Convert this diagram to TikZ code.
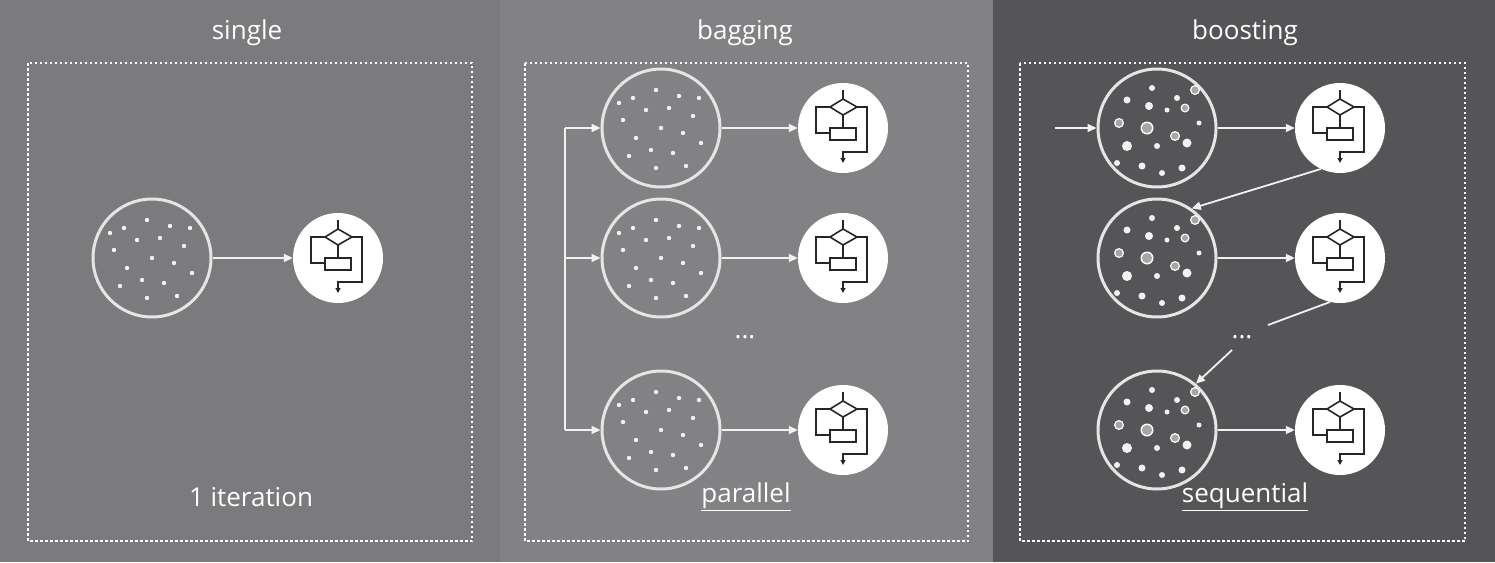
\documentclass[tikz,border=0pt]{standalone}
\usepackage{fontspec}
\setmainfont{Open Sans}
\usetikzlibrary{arrows.meta,calc}
\begin{document}
\begin{tikzpicture}[x=1pt,y=-1pt,
  frame/.style={draw=white,line width=2.5pt,dash pattern=on 2.5pt off 2.5pt},
  data/.style={circle,draw=white!80!gray,line width=3pt,minimum size=118pt,inner sep=0pt},
  model/.style={circle,fill=white,minimum size=90pt,inner sep=0pt},
  arr/.style={draw=white!90!gray,line width=1.8pt,-{Triangle[length=9pt,width=8pt]}},
  ttl/.style={text=white,font=\fontsize{26}{28}\selectfont},
  dot/.style={fill=white!90!gray}]
\fill[fill={rgb,255:red,123;green,123;blue,125}] (0,0) rectangle (993,562);
\fill[fill={rgb,255:red,130;green,130;blue,132}] (500,0) rectangle (993,562);
\fill[fill={rgb,255:red,85;green,85;blue,87}] (993,0) rectangle (1495,562);
\useasboundingbox (0,0) rectangle (1495,562);
\draw[frame] (28,63) rectangle (472,541);
\draw[frame] (525,63) rectangle (968,541);
\draw[frame] (1020,63) rectangle (1465,541);
\node[ttl] (t1) at (247,33) {single};
\node[ttl] (t2) at (745,33) {bagging};
\node[ttl] (t3) at (1245,33) {boosting};
\node[ttl] (b1) at (251,497) {1 iteration};
\node[ttl] (b2) at (746,497) {\underline{parallel}};
\node[ttl] (b3) at (1245,497) {\underline{sequential}};
\def\sdots#1{\foreach \dx/\dy in {-28/-30,-5/-38,18/-32,-38/-8,-15/-18,8/-20,32/-12,-25/10,0/0,22/5,40/15,-10/22,12/25,-32/28,-5/40,25/38,-42/-25,38/-30}{\fill[dot] ($(#1)+(\dx,\dy)$) circle (2.2pt);}}
\def\bdots#1{\foreach \dx/\dy/\r/\g in {-5/-40/3/0,20/-30/3/0,38/-38/5/1,-30/-28/3.5/0,-8/-22/4/0,10/-18/2.5/0,28/-20/4.5/1,-38/-5/5/1,-10/0/6.5/1,18/8/5/1,42/-5/2.5/0,30/15/4.5/0,-30/18/5/0,0/18/3/0,-15/38/3.5/0,5/45/3/0,25/40/3.5/0,-40/35/3/0}{\ifnum\g=1 \fill[white] ($(#1)+(\dx,\dy)$) circle (\r pt);\fill[gray!70] ($(#1)+(\dx,\dy)$) circle (\r pt-1.4pt);\else\fill[dot] ($(#1)+(\dx,\dy)$) circle (\r pt);\fi}}
\def\icon#1{\begin{scope}[shift={(#1)},line width=1.6pt,black!85]
 \draw (0,-38)--(0,-29); \draw (0,-29)--(14,-21)--(0,-13)--(-13,-21)--cycle;
 \draw (0,-13)--(0,0); \draw (-13,0) rectangle (13,12);
 \draw (-13,-21)--(-27,-21)--(-27,5)--(-13,5);
 \draw[-{Triangle[length=5pt,width=5pt]}] (14,-21)--(24,-21)--(24,24)--(0,24)--(0,35);
 \end{scope}}
% single
\node[data] (s) at (152,258) {}; \sdots{s}
\node[model] (sm) at (338,258) {}; \icon{sm}
\draw[arr] (s)--(sm);
% bagging
\foreach \n/\y in {1/128,2/258,3/430}{
 \node[data] (g\n) at (661,\y) {}; \sdots{g\n}
 \node[model] (gm\n) at (843,\y) {}; \icon{gm\n}
 \draw[arr] (g\n)--(gm\n);
 \coordinate (gl\n) at (565,\y);
 \draw[arr] (gl\n)--(g\n);}
\draw[white!90!gray,line width=1.8pt] (gl1)--(gl3);
\node[ttl] (gd) at (745,337) {...};
% boosting
\foreach \n/\y in {1/128,2/258,3/430}{
 \node[data] (o\n) at (1157,\y) {}; \bdots{o\n}
 \node[model] (om\n) at (1340,\y) {}; \icon{om\n}
 \draw[arr] (o\n)--(om\n);}
\coordinate (oin) at (1055,128);
\draw[arr] (oin)--(o1);
\draw[arr] (om1.-115)--(o2.55);
\node[ttl] (od) at (1242,337) {...};
\coordinate (oa) at (1330,302); \coordinate (ob) at (1268,325);
\draw[white!90!gray,line width=1.8pt] (oa)--(ob);
\coordinate (oc) at (1232,350);
\draw[arr] (oc)--(o3.50);
\end{tikzpicture}
\end{document}
